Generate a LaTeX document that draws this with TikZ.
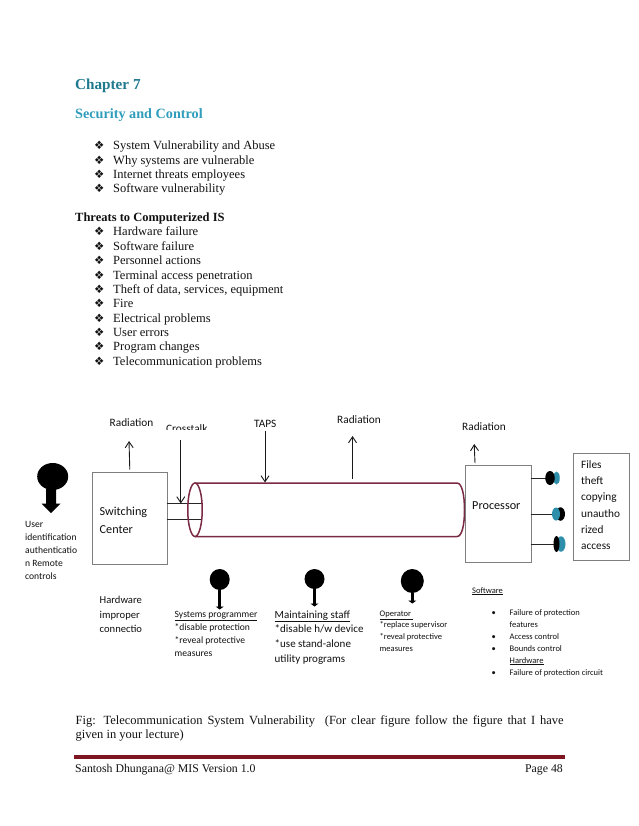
\documentclass[tikz,border=0pt]{standalone}
\usepackage{fontspec}
\setmainfont{Liberation Serif}
\newfontfamily\calf{Carlito}
\newfontfamily\djv{DejaVu Sans}
\usetikzlibrary{arrows.meta,shapes.geometric}
\definecolor{chapc}{HTML}{1F7A8F}
\definecolor{secc}{HTML}{2F9DBB}
\definecolor{cylc}{HTML}{7A2A42}
\definecolor{rulec}{HTML}{7E1622}
\definecolor{tealc}{HTML}{2E8FAA}
\definecolor{boxc}{HTML}{7F7F7F}
\definecolor{txtc}{HTML}{111111}
\newcommand{\fs}[1]{\fontsize{#1}{#1}\selectfont}
\tikzset{
  x=1pt,y=-1pt,
  lbl/.style={inner sep=0pt,anchor=base west,text=txtc},
  serif/.style={lbl,font=\fs{12.5}},
  cal/.style={lbl,font=\calf\fs{11.3}},
  calbig/.style={lbl,font=\calf\fs{12.2}},
  calsm/.style={lbl,font=\calf\fs{9.6}},
  caltn/.style={lbl,font=\calf\fs{8.5}},
  calxs/.style={lbl,font=\calf\fs{8.5}},
  blockbox/.style={draw=boxc,line width=1pt,inner sep=0pt,fill=white},
  sig/.style={draw=black!90,line width=.9pt,-{Straight Barb[length=6pt,width=8pt]}},
  wire/.style={draw=black!85,line width=.9pt},
  head/.style={ellipse,fill=black,inner sep=0pt},
  teal/.style={ellipse,fill=tealc,inner sep=0pt},
  tap/.style={ellipse,fill=black,inner sep=0pt},
  stem/.style={draw=black,line width=3pt,-{Triangle[length=3pt,width=8pt]}},
}
\newcommand{\bul}[3]{%
  \node[lbl,font=\djv\fs{11.5}] (#1b) at (94,#2) {❖};
  \node[serif] (#1) at (113,#2) {#3};
}
\newcommand{\dotb}[3]{%
  \node[calxs] (#1b) at (491.5,#2) {•};
  \node[calxs] (#1) at (509.5,#2) {#3};
}
\begin{document}
\begin{tikzpicture}
\useasboundingbox[fill=white] (0,0) rectangle (638,826);
% headings
\node[lbl,font=\fs{15.2}\bfseries,text=chapc] (chap) at (75,90) {Chapter 7};
\node[lbl,font=\fs{14.2}\bfseries,text=secc] (sec) at (75,119) {Security and Control};
\bul{a1}{150}{System Vulnerability and Abuse}
\bul{a2}{164.4}{Why systems are vulnerable}
\bul{a3}{178.6}{Internet threats employees}
\bul{a4}{193}{Software vulnerability}
\node[serif,font=\fs{12.5}\bfseries] (thr) at (75,222) {Threats to Computerized IS};
\bul{b1}{236}{Hardware failure}
\bul{b2}{250.4}{Software failure}
\bul{b3}{264.7}{Personnel actions}
\bul{b4}{279}{Terminal access penetration}
\bul{b5}{293.3}{Theft of data, services, equipment}
\bul{b6}{307.6}{Fire}
\bul{b7}{322}{Electrical problems}
\bul{b8}{336.3}{User errors}
\bul{b9}{350.6}{Program changes}
\bul{b10}{365}{Telecommunication problems}
% cylinder
\coordinate (cTL) at (195,483);
\coordinate (cBL) at (195,536.5);
\coordinate (cTR) at (457,483);
\coordinate (cBR) at (457,536.5);
\draw[cylc,line width=1.5pt] (cTL) -- (cTR) .. controls (462,483) and (464.5,495) .. (464.5,510) .. controls (464.5,525) and (462,536.5) .. (cBR) -- (cBL);
% boxes
\node[blockbox,minimum width=75pt,minimum height=92pt,anchor=north west] (sw) at (91.5,471.5) {};
\node[blockbox,minimum width=66pt,minimum height=97.5pt,anchor=north west] (proc) at (464.5,464.5) {};
\node[blockbox,minimum width=55.5pt,minimum height=107.5pt,anchor=north west] (files) at (573,452.5) {};
\coordinate (w1a) at (166.5,503); \coordinate (w1b) at (202,503);
\coordinate (w2a) at (166.5,519); \coordinate (w2b) at (202,519);
\draw[wire] (w1a) -- (w1b);
\draw[wire] (w2a) -- (w2b);
\node[draw=cylc,line width=1.5pt,ellipse,inner sep=0pt,minimum width=14.5pt,minimum height=53.5pt] (cyl) at (195,509.75) {};
% box text
\node[calbig] (sw1) at (99.5,515) {Switching};
\node[calbig] (sw2) at (99.5,533) {Center};
\node[calbig] (pt) at (472,509) {Processor};
\node[cal] (f1) at (581,468) {Files};
\node[cal] (f2) at (581,484) {theft};
\node[cal] (f3) at (581,500.5) {copying};
\node[cal] (f4) at (581,517) {unautho};
\node[cal] (f5) at (581,533) {rized};
\node[cal] (f6) at (581,549) {access};
% threat labels
\node[cal] (r1) at (109.5,426) {Radiation};
\begin{scope}
\clip (160,415) rectangle (215,429.8);
\node[cal] (ct) at (166,432) {Crosstalk};
\end{scope}
\node[cal] (taps) at (254,427) {TAPS};
\node[cal] (r3) at (337,423.5) {Radiation};
\node[cal] (r4) at (462,430) {Radiation};
% threat arrows
\coordinate (a1s) at (129.8,469.5); \coordinate (a1e) at (129,441);
\coordinate (a2s) at (180.8,440); \coordinate (a2e) at (180.8,503.5);
\coordinate (a3s) at (265,430.5); \coordinate (a3e) at (265,482.5);
\coordinate (a4s) at (352.5,478.5); \coordinate (a4e) at (352.5,436);
\coordinate (a5s) at (475,463); \coordinate (a5e) at (474.2,444);
\draw[sig] (a1s) -- (a1e);
\draw[sig] (a2s) -- (a2e);
\draw[sig] (a3s) -- (a3e);
\draw[sig] (a4s) -- (a4e);
\draw[sig] (a5s) -- (a5e);
% user icon
\node[head,minimum width=31pt,minimum height=27pt] (u) at (52.7,476.5) {};
\fill[black] (46,489) -- (56,489) -- (56,503.5) -- (60.5,503.5) -- (51,513) -- (41.5,503.5) -- (46,503.5) -- cycle;
\node[calsm] (u1) at (25,527) {User};
\node[calsm] (u2) at (25,540.3) {identification};
\node[calsm] (u3) at (25,553.5) {authenticatio};
\node[calsm] (u4) at (25,566.5) {n Remote};
\node[calsm] (u5) at (25,579.5) {controls};
% hardware
\node[lbl,font=\calf\fs{10.6}] (h1) at (99.5,603) {Hardware};
\node[lbl,font=\calf\fs{10.6}] (h2) at (99.5,618) {improper};
\node[lbl,font=\calf\fs{10.6}] (h3) at (99.5,632.5) {connectio};
% people icons
\node[head,minimum width=20pt,minimum height=21pt] (p1) at (219.7,579.5) {};
\coordinate (p1e) at (219.7,609.5);
\draw[stem] (p1) -- (p1e);
\node[head,minimum width=20pt,minimum height=20pt] (p2) at (314.5,579) {};
\coordinate (p2e) at (314.5,606.5);
\draw[stem] (p2) -- (p2e);
\node[head,minimum width=23pt,minimum height=24pt] (p3) at (412.3,581) {};
\coordinate (p3e) at (412.3,603.5);
\draw[stem] (p3) -- (p3e);
% people text
\node[calsm] (s1) at (174.5,617) {\underline{Systems programmer}};
\node[calsm] (s2) at (174.5,630.3) {*disable protection};
\node[calsm] (s3) at (174.5,643.6) {*reveal protective};
\node[calsm] (s4) at (174.5,656.8) {measures};
\node[lbl,font=\calf\fs{11}] (m1) at (274.5,618) {\underline{Maintaining staff}};
\node[lbl,font=\calf\fs{11}] (m2) at (274.5,632.7) {*disable h/w device};
\node[lbl,font=\calf\fs{11}] (m3) at (274.5,647.3) {*use stand-alone};
\node[lbl,font=\calf\fs{11}] (m4) at (274.5,662) {utility programs};
\node[caltn] (o1) at (379.5,616) {\underline{Operator\ }};
\node[caltn] (o2) at (379.5,627.7) {*replace supervisor};
\node[caltn] (o3) at (379.5,639.3) {*reveal protective};
\node[caltn] (o4) at (379.5,651) {measures};
% software
\node[calxs] (sw0) at (472,593) {\underline{Software}};
\dotb{d1}{615}{Failure of protection}
\node[calxs] (d1c) at (509.5,627) {features};
\dotb{d2}{639}{Access control}
\dotb{d3}{651.3}{Bounds control}
\node[calxs] (hw0) at (509.5,663) {\underline{Hardware}};
\dotb{d4}{675}{Failure of protection circuit}
% taps on processor
\coordinate (t1a) at (530.5,478.5); \coordinate (t1b) at (546,478.5);
\draw[wire] (t1a) -- (t1b);
\node[teal,minimum width=6.5pt,minimum height=13pt] (t1t) at (556.5,478) {};
\node[tap,minimum width=9.5pt,minimum height=14pt] (t1k) at (550,478) {};
\coordinate (t2a) at (530.5,514); \coordinate (t2b) at (554,514);
\draw[wire] (t2a) -- (t2b);
\node[tap,minimum width=9pt,minimum height=13.5pt] (t2k) at (560.5,514) {};
\node[teal,minimum width=8pt,minimum height=13pt] (t2t) at (556,514) {};
\coordinate (t3a) at (530.5,544.5); \coordinate (t3b) at (554,544.5);
\draw[wire] (t3a) -- (t3b);
\node[teal,minimum width=9pt,minimum height=15.5pt] (t3t) at (561,544) {};
\node[tap,minimum width=6pt,minimum height=16pt] (t3k) at (556.5,544) {};
% caption
\node[serif] (cap1) at (75.5,724) {\makebox[488pt][s]{Fig: Telecommunication System Vulnerability \ (For clear figure follow the figure that I have}};
\node[serif] (cap2) at (75.5,738.5) {given in your lecture)};
% footer
\coordinate (rl) at (74,757); \coordinate (rr) at (564.5,757);
\draw[rulec,line width=3.4pt] (rl) -- (rr);
\node[lbl,font=\fs{11.8}] (fl) at (75,772) {Santosh Dhungana@ MIS Version 1.0};
\node[lbl,font=\fs{11.8},anchor=base east] (fr) at (563,772) {Page 48};
\end{tikzpicture}
\end{document}
